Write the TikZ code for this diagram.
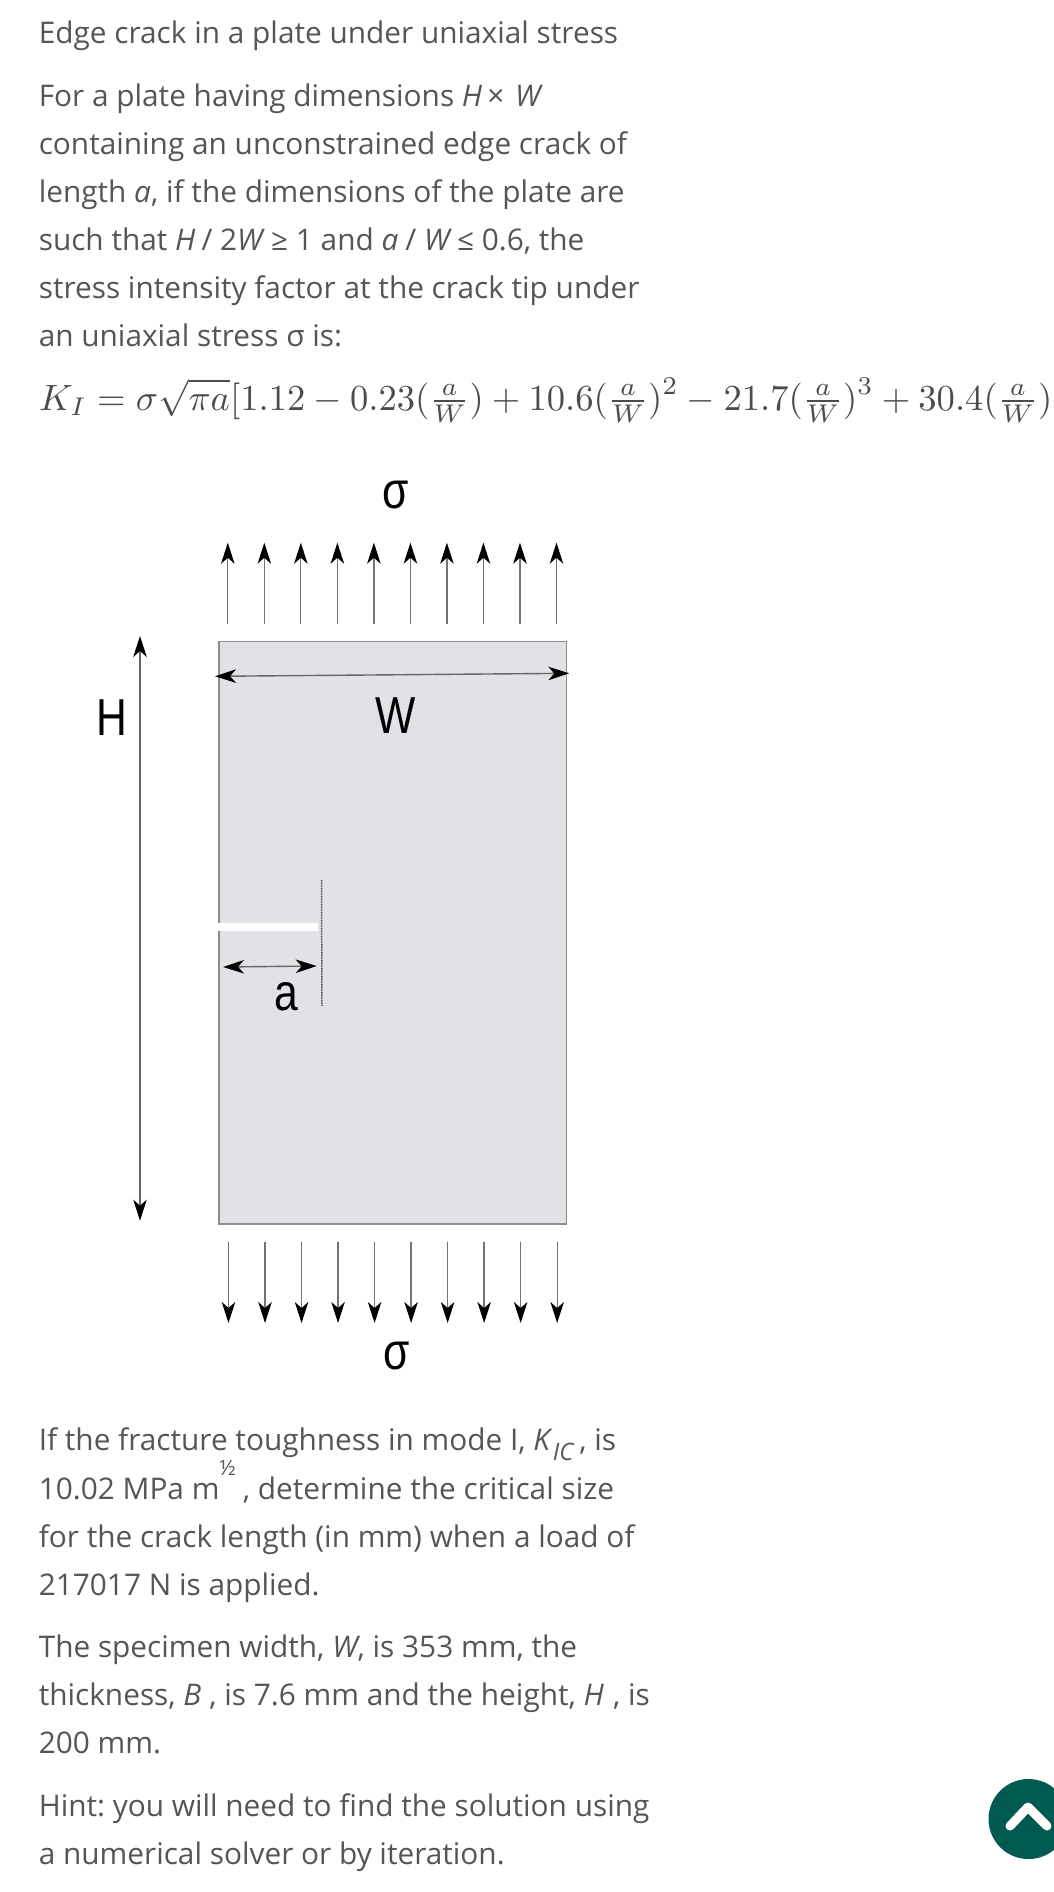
\documentclass[tikz,border=0pt]{standalone}
\usepackage{fontspec}
\usepackage{amsmath}
\usetikzlibrary{arrows.meta}
\setmainfont{Open Sans}
\newfontfamily\figfont{Liberation Sans}
\newcommand{\narrowlabel}[1]{\scalebox{.82}[1]{#1}}
\definecolor{txt}{HTML}{555555}
\definecolor{plate}{HTML}{E1E2E6}
\definecolor{edge}{HTML}{8C8C8C}
\definecolor{teal}{HTML}{005A50}
\tikzset{
  x=1pt,y=-1pt,
  para/.style={anchor=base west,inner sep=0pt,text=txt,font=\fontsize{29.8}{34}\selectfont\frenchspacing},
  figlabel/.style={inner sep=0pt,text=black,font=\figfont\fontsize{52}{52}\selectfont},
  tip/.style={-{Stealth[length=21pt,width=13.5pt,inset=6pt,color=black]}},
  loadarrow/.style={tip,draw=black!55,line width=1.3pt},
  dimarrow/.style={{Stealth[length=21pt,width=13.5pt,inset=6pt,color=black]}-{Stealth[length=21pt,width=13.5pt,inset=6pt,color=black]},draw=black!60,line width=1.4pt}
}
\begin{document}
\begin{tikzpicture}
\useasboundingbox (0,0) rectangle (1054,1892);
\clip (0,0) rectangle (1054,1892);
\node[para] (t1) at (38.6,43.5) {Edge crack in a plate under uniaxial stress};
\node[para] (t2) at (38.6,106.5) {For a plate having dimensions \textit{H}\hspace{5pt}× \hspace{3pt}\textit{W}};
\node[para] (t3) at (38.6,154.5) {containing an unconstrained edge crack of};
\node[para] (t4) at (38.6,202.5) {length \textit{a}, if the dimensions of the plate are};
\node[para] (t5) at (38.6,250.5) {such that \textit{H}\hspace{6pt}/ 2\textit{W}\hspace{6pt}≥ 1 and \textit{a}\hspace{7pt}/ \textit{W}\hspace{5pt}≤ 0.6, the};
\node[para] (t6) at (38.6,298.5) {stress intensity factor at the crack tip under};
\node[para] (t7) at (38.6,346.5) {an uniaxial stress σ is:};
\node[anchor=base west,inner sep=0pt,text=black!70] (eq) at (39,410) {\scalebox{3.66}{$\displaystyle K_I=\sigma\sqrt{\pi a}[1.12-0.23(\tfrac{a}{W})+10.6(\tfrac{a}{W})^2-21.7(\tfrac{a}{W})^3+30.4(\tfrac{a}{W})$}};
% plate
\node[draw=edge,fill=plate,line width=1.5pt,minimum width=347.5pt,minimum height=582.5pt,inner sep=0pt,anchor=north west] (plate) at (218,640.5) {};
\fill[white] (217,923) rectangle (318,931);
\coordinate (dotA) at (321.5,880);
\coordinate (dotB) at (322,1006);
\draw[black!65,line width=1.5pt,dash pattern=on 1pt off 0.6pt] (dotA) -- (dotB);
\foreach \i in {0,...,9}{
  \coordinate (ua\i) at ({227.8+36.52*\i},624);
  \coordinate (ub\i) at ({227.8+36.52*\i},542.7);
  \draw[loadarrow] (ua\i) -- (ub\i);
  \coordinate (da\i) at ({228.5+36.52*\i},1241.7);
  \coordinate (db\i) at ({228.5+36.52*\i},1323);
  \draw[loadarrow] (da\i) -- (db\i);
}
\coordinate (hT) at (140,636);
\coordinate (hB) at (140,1220.7);
\draw[dimarrow] (hT) -- (hB);
\coordinate (wL) at (215,676.3);
\coordinate (wR) at (569.3,673.3);
\draw[dimarrow] (wL) -- (wR);
\coordinate (aL) at (223,967);
\coordinate (aR) at (316.7,966);
\draw[dimarrow] (aL) -- (aR);
\node[figlabel,anchor=base] (lH) at (111.7,735) {\narrowlabel{H}};
\node[figlabel,anchor=base] (lW) at (395.7,733) {\narrowlabel{W}};
\node[figlabel,anchor=base] (la) at (286,1010) {\narrowlabel{a}};
\node[figlabel,anchor=base] (s1) at (395.7,508) {\narrowlabel{σ}};
\node[figlabel,anchor=base] (s2) at (397,1369.5) {\narrowlabel{σ}};
% lower text
\node[para] (b1) at (38.6,1450.5) {If the fracture toughness in mode I, \textit{K}\raisebox{-10pt}{\fontsize{24}{24}\selectfont\textit{IC}}\,, is};
\node[para] (b2) at (38.6,1499.5) {10.02 MPa m\raisebox{24pt}{\fontsize{21}{21}\selectfont ½}\hspace{7pt}, determine the critical size};
\node[para] (b3) at (38.6,1547.5) {for the crack length (in mm) when a load of};
\node[para] (b4) at (38.6,1595.5) {217017 N is applied.};
\node[para] (b5) at (38.6,1657.5) {The specimen width, \textit{W}, is 353 mm, the};
\node[para] (b6) at (38.6,1705.5) {thickness, \textit{B}\hspace{8pt}, is 7.6 mm and the height, \textit{H}\hspace{9pt}, is};
\node[para] (b7) at (38.6,1753.5) {200 mm.};
\node[para] (b8) at (38.6,1816.5) {Hint: you will need to find the solution using};
\node[para] (b9) at (38.6,1864.5) {a numerical solver or by iteration.};
% back to top button
\node[circle,fill=teal,minimum size=80pt,inner sep=0pt] (btn) at (1028.5,1819) {};
\coordinate (c1) at (1010,1826);
\coordinate (c2) at (1028,1807);
\coordinate (c3) at (1047,1826);
\draw[white,line width=9pt,line cap=round,line join=round] (c1) -- (c2) -- (c3);
\end{tikzpicture}
\end{document}
